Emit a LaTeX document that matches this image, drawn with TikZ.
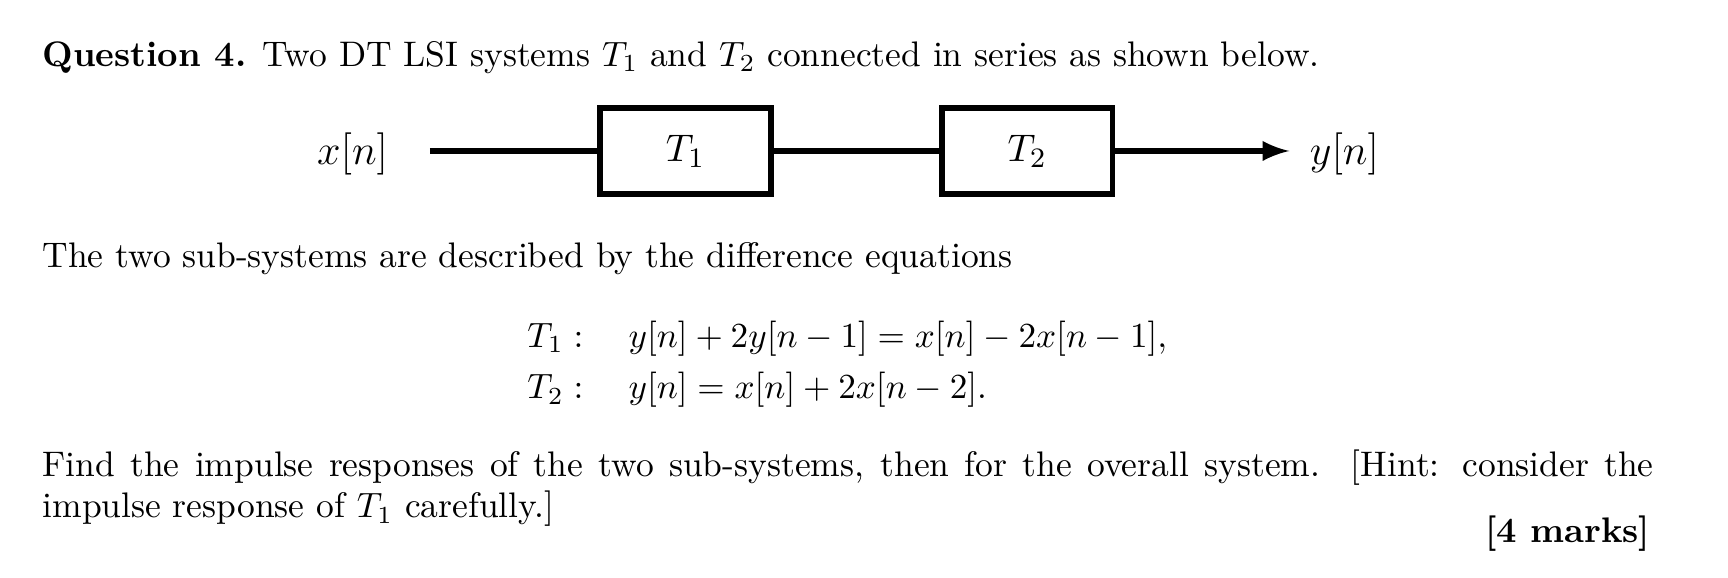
\documentclass[tikz,border=0pt]{standalone}
\usepackage{amsmath}
\begin{document}
\begin{tikzpicture}[x=0.01102cm,y=-0.01102cm,
  txt/.style={anchor=base west,inner sep=0,font=\fontsize{10.1}{12.5}\selectfont},
  blk/.style={draw,line width=1.6pt,minimum width=155*0.01102cm,minimum height=78*0.01102cm,inner sep=0,font=\fontsize{11}{13}\selectfont},
  wire/.style={line width=1.6pt}]
\useasboundingbox (0,0) rectangle (1568,524);
\node[txt] (q) at (38,60) {\textbf{Question 4.} Two DT LSI systems $T_1$ and $T_2$ connected in series as shown below.};
\node[txt,anchor=center,font=\fontsize{12}{14}\selectfont] (x) at (320,140) {$x[n]$};
\node[blk] (t1) at (622,137) {$T_1$};
\node[blk] (t2) at (932,137) {$T_2$};
\node[txt,anchor=center,font=\fontsize{12}{14}\selectfont] (y) at (1220,140) {$y[n]$};
\coordinate (xs) at (390,137);
\coordinate (ye) at (1170,137);
\draw[wire] (xs) -- (t1.west);
\draw[wire] (t1.east) -- (t2.west);
\draw[wire,-latex] (t2.east) -- (ye);
\node[txt] (d) at (38,243) {The two sub-systems are described by the difference equations};
\node[txt] (e1) at (478,315) {$T_1:\quad y[n]+2y[n-1]=x[n]-2x[n-1],$};
\node[txt] (e2) at (478,362) {$T_2:\quad y[n]=x[n]+2x[n-2].$};
\node[txt] (f) at (38,432) {\makebox[1462\dimexpr0.01102cm\relax][s]{Find the impulse responses of the two sub-systems, then for the overall system.\ \ [Hint: consider the}};
\node[txt] (f2) at (38,470) {impulse response of $T_1$ carefully.]};
\node[txt,anchor=base east] (m) at (1498,492) {\textbf{[4 marks]}};
\end{tikzpicture}
\end{document}
